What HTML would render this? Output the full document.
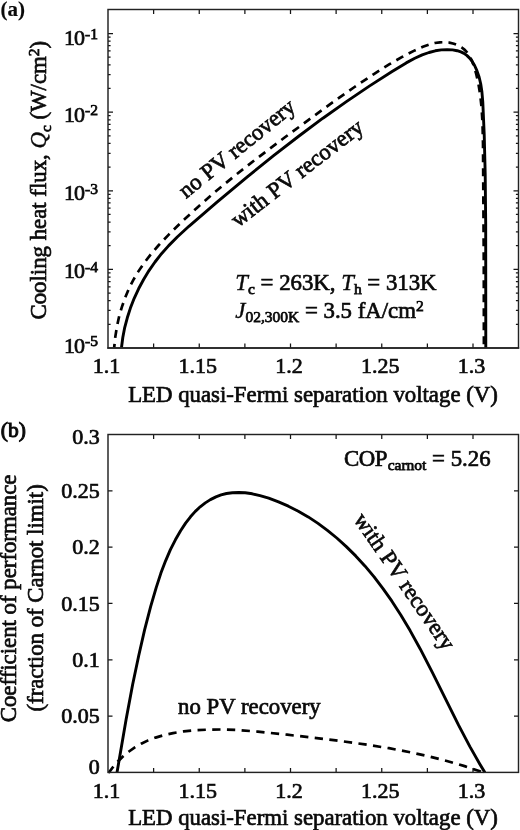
<!DOCTYPE html>
<html lang="en"><head><meta charset="utf-8"><title>LED cooling figure</title>
<style>html,body{margin:0;padding:0;background:#fff}svg{display:block}text{font-family:"Liberation Serif","Times New Roman",serif;fill:#0a0a0a;stroke:#0a0a0a;stroke-width:.7px}.i{font-style:italic;stroke-width:.4px}.k{font-size:22px}.t{font-size:22.8px}.s{font-size:15.5px;stroke-width:.75px}.ax{stroke:#222;stroke-width:1.45;fill:none}.tk{stroke:#151515;stroke-width:1.25;fill:none}.c{stroke:#000;stroke-width:2.9;fill:none;stroke-linejoin:round}.d{stroke:#000;stroke-width:2.7;fill:none;stroke-dasharray:7.9 6.1}</style></head><body>
<svg width="520" height="830" viewBox="0 0 520 830">
<rect width="520" height="830" fill="#fff"/>
<clipPath id="ca"><rect x="108.0" y="9.5" width="410.5" height="338.5"/></clipPath>
<clipPath id="cb"><rect x="108.0" y="434.5" width="410.5" height="338.9"/></clipPath>
<path class="tk" d="M153.62,348.0v-4.5M153.62,9.5v4.5M199.25,348.0v-4.5M199.25,9.5v4.5M244.88,348.0v-4.5M244.88,9.5v4.5M290.50,348.0v-4.5M290.50,9.5v4.5M336.12,348.0v-4.5M336.12,9.5v4.5M381.75,348.0v-4.5M381.75,9.5v4.5M427.38,348.0v-4.5M427.38,9.5v4.5M473.00,348.0v-4.5M473.00,9.5v4.5M108.0,324.33h2.6M518.5,324.33h-2.6M108.0,310.49h2.6M518.5,310.49h-2.6M108.0,300.67h2.6M518.5,300.67h-2.6M108.0,293.05h2.6M518.5,293.05h-2.6M108.0,286.82h2.6M518.5,286.82h-2.6M108.0,281.56h2.6M518.5,281.56h-2.6M108.0,277.00h2.6M518.5,277.00h-2.6M108.0,272.98h2.6M518.5,272.98h-2.6M108.0,269.38h5M518.5,269.38h-5M108.0,245.71h2.6M518.5,245.71h-2.6M108.0,231.87h2.6M518.5,231.87h-2.6M108.0,222.05h2.6M518.5,222.05h-2.6M108.0,214.43h2.6M518.5,214.43h-2.6M108.0,208.20h2.6M518.5,208.20h-2.6M108.0,202.94h2.6M518.5,202.94h-2.6M108.0,198.38h2.6M518.5,198.38h-2.6M108.0,194.36h2.6M518.5,194.36h-2.6M108.0,190.76h5M518.5,190.76h-5M108.0,167.09h2.6M518.5,167.09h-2.6M108.0,153.25h2.6M518.5,153.25h-2.6M108.0,143.43h2.6M518.5,143.43h-2.6M108.0,135.81h2.6M518.5,135.81h-2.6M108.0,129.58h2.6M518.5,129.58h-2.6M108.0,124.32h2.6M518.5,124.32h-2.6M108.0,119.76h2.6M518.5,119.76h-2.6M108.0,115.74h2.6M518.5,115.74h-2.6M108.0,112.14h5M518.5,112.14h-5M108.0,88.47h2.6M518.5,88.47h-2.6M108.0,74.63h2.6M518.5,74.63h-2.6M108.0,64.81h2.6M518.5,64.81h-2.6M108.0,57.19h2.6M518.5,57.19h-2.6M108.0,50.96h2.6M518.5,50.96h-2.6M108.0,45.70h2.6M518.5,45.70h-2.6M108.0,41.14h2.6M518.5,41.14h-2.6M108.0,37.12h2.6M518.5,37.12h-2.6M108.0,33.52h5M518.5,33.52h-5"/>
<g clip-path="url(#ca)"><path class="d" d="M114.2,347.5 L115.3,336.9 L117.0,326.3 L119.2,316.2 L122.0,306.6 L125.3,297.2 L129.0,288.4 L133.1,280.3 L137.9,272.1 L143.6,263.6 L150.4,254.8 L158.4,245.5 L168.3,235.1 L181.9,221.7 L197.4,207.4 L214.4,192.5 L233.7,176.6 L256.1,159.0 L284.6,137.5 L329.5,104.6 L353.8,87.5 L373.5,74.3 L389.5,64.2 L402.6,56.7 L414.8,50.4 L422.9,46.7 L429.4,44.4 L434.8,43.0 L439.9,42.3 L444.6,42.2 L449.3,42.6 L453.9,43.7 L457.9,45.2 L461.5,47.3 L464.4,49.6 L467.0,52.3 L469.4,55.8 L471.7,60.3 L473.9,66.0 L476.2,73.9 L478.5,84.3 L480.3,95.5 L481.6,108.1 L482.5,122.7 L483.0,143.5 L483.8,265.4 L483.9,350.0" stroke-dashoffset="4.3"/><path class="c" d="M121.5,347.5 L122.8,337.5 L124.7,327.6 L127.3,317.8 L130.4,308.1 L134.2,298.3 L138.6,288.8 L143.6,279.5 L149.0,270.6 L155.0,262.0 L161.5,253.7 L168.7,245.6 L177.5,236.8 L188.9,226.3 L216.7,202.4 L247.3,176.9 L273.9,155.4 L299.0,136.0 L322.9,118.2 L346.4,101.6 L369.3,86.1 L392.1,71.5 L406.2,62.9 L414.8,58.3 L422.2,54.9 L429.0,52.5 L435.3,50.8 L441.3,49.9 L447.1,49.6 L452.5,49.9 L457.2,50.7 L460.9,51.9 L464.0,53.4 L466.8,55.4 L469.6,58.1 L472.2,61.4 L474.6,65.5 L476.9,70.6 L479.1,77.0 L480.7,83.8 L481.9,91.8 L482.8,102.2 L484.2,134.1 L485.2,174.2 L485.7,224.0 L485.8,350.0"/></g>
<rect class="ax" x="108.0" y="9.5" width="410.5" height="338.5"/><path class="ax" style="stroke-width:1.7" d="M107.3,348.0H519.2"/>
<text class="k" x="64" y="45.2"><tspan letter-spacing="-1">10</tspan><tspan class="s" dx="1" dy="-6.3">-1</tspan></text>
<text class="k" x="64" y="121.7"><tspan letter-spacing="-1">10</tspan><tspan class="s" dx="1" dy="-6.3">-2</tspan></text>
<text class="k" x="64" y="199.9"><tspan letter-spacing="-1">10</tspan><tspan class="s" dx="1" dy="-6.3">-3</tspan></text>
<text class="k" x="64" y="278"><tspan letter-spacing="-1">10</tspan><tspan class="s" dx="1" dy="-6.3">-4</tspan></text>
<text class="k" x="64" y="352.5"><tspan letter-spacing="-1">10</tspan><tspan class="s" dx="1" dy="-6.3">-5</tspan></text>
<text class="k" text-anchor="middle" x="106.5" y="373.2">1.1</text>
<text class="k" text-anchor="middle" x="197.7" y="373.2">1.15</text>
<text class="k" text-anchor="middle" x="289.0" y="373.2">1.2</text>
<text class="k" text-anchor="middle" x="380.2" y="373.2">1.25</text>
<text class="k" text-anchor="middle" x="471.5" y="373.2">1.3</text>
<text class="t" text-anchor="middle" x="313" y="401.5">LED quasi-Fermi separation voltage (V)</text>
<text class="k" text-anchor="middle" x="106.5" y="797.6">1.1</text>
<text class="k" text-anchor="middle" x="197.7" y="797.6">1.15</text>
<text class="k" text-anchor="middle" x="289.0" y="797.6">1.2</text>
<text class="k" text-anchor="middle" x="380.2" y="797.6">1.25</text>
<text class="k" text-anchor="middle" x="471.5" y="797.6">1.3</text>
<text class="t" text-anchor="middle" x="313" y="824.8">LED quasi-Fermi separation voltage (V)</text>
<text class="t" x="0.6" y="15.8" style="font-size:21px;font-weight:bold;stroke-width:.15px">(a)</text>
<text class="t" x="0.8" y="436.8" style="font-size:21.5px;stroke-width:1px">(b)</text>
<text class="t" text-anchor="middle" transform="translate(45.9,180.2) rotate(-90)">Cooling heat flux, <tspan class="i">Q</tspan><tspan class="s" dy="5">c</tspan><tspan dy="-5"> (W/cm</tspan><tspan class="s" dy="-7">2</tspan><tspan dy="7">)</tspan></text>
<text class="t" text-anchor="middle" transform="translate(16.4,598.4) rotate(-90)">Coefficient of performance</text>
<text class="t" text-anchor="middle" transform="translate(42.5,597.9) rotate(-90)">(fraction of Carnot limit)</text>
<text class="t" transform="translate(186,199) rotate(-39)">no PV recovery</text>
<text class="t" transform="translate(238,228) rotate(-37.7)">with PV recovery</text>
<text class="t" x="235.3" y="290.4"><tspan class="i">T</tspan><tspan class="s" dy="4">c</tspan><tspan dy="-4"> = 263K, </tspan><tspan class="i">T</tspan><tspan class="s" dy="4">h</tspan><tspan dy="-4"> = 313K</tspan></text>
<text class="t" x="235.3" y="318"><tspan class="i">J</tspan><tspan class="s" dy="4">02,300K</tspan><tspan dy="-4"> = 3.5 fA/cm</tspan><tspan class="s" dy="-7">2</tspan></text>
<path class="tk" d="M153.62,772.4v-4.5M153.62,434.5v4.5M199.25,772.4v-4.5M199.25,434.5v4.5M244.88,772.4v-4.5M244.88,434.5v4.5M290.50,772.4v-4.5M290.50,434.5v4.5M336.12,772.4v-4.5M336.12,434.5v4.5M381.75,772.4v-4.5M381.75,434.5v4.5M427.38,772.4v-4.5M427.38,434.5v4.5M473.00,772.4v-4.5M473.00,434.5v4.5M108.0,716.08h4.5M518.5,716.08h-4.5M108.0,659.77h4.5M518.5,659.77h-4.5M108.0,603.45h4.5M518.5,603.45h-4.5M108.0,547.13h4.5M518.5,547.13h-4.5M108.0,490.82h4.5M518.5,490.82h-4.5"/>
<g clip-path="url(#cb)"><path class="d" style="stroke-dasharray:8.3 6.4" d="M108.4,773.3 L112.8,767.3 L117.6,761.7 L122.9,756.5 L128.7,751.7 L134.8,747.4 L141.2,743.7 L148.1,740.4 L155.6,737.6 L163.9,735.1 L173.1,733.1 L183.7,731.4 L195.8,730.2 L208.8,729.6 L223.0,729.5 L238.9,730.1 L257.8,731.6 L287.2,734.7 L335.8,740.4 L364.9,744.4 L389.0,748.2 L410.3,752.3 L429.7,756.6 L447.7,761.2 L464.6,766.1 L480.6,771.5 L484.9,773.0" stroke-dashoffset="14.6"/><path class="c" d="M117.0,772.6 L126.1,719.5 L132.6,684.7 L138.7,655.7 L144.6,629.9 L150.7,606.4 L156.2,587.6 L160.9,573.1 L165.6,560.8 L170.4,549.7 L175.4,539.8 L180.6,530.7 L185.6,523.1 L190.5,516.8 L195.3,511.4 L200.2,506.8 L205.3,502.9 L210.4,499.6 L215.9,496.9 L221.1,494.9 L226.5,493.5 L232.4,492.7 L238.6,492.5 L245.2,492.8 L252.3,493.8 L260.0,495.6 L268.7,498.2 L278.5,501.9 L288.4,506.2 L298.3,511.2 L308.2,516.9 L318.0,523.4 L327.4,530.3 L336.8,538.0 L346.3,546.6 L355.7,555.9 L364.9,565.9 L374.1,576.9 L383.0,588.6 L391.9,601.2 L400.8,615.0 L410.1,630.6 L420.1,648.7 L432.2,672.1 L458.7,725.4 L469.9,746.6 L479.6,763.7 L484.9,772.6"/></g>
<rect class="ax" x="108.0" y="434.5" width="410.5" height="337.9"/>
<text class="k" text-anchor="end" x="99.7" y="773.8">0</text>
<text class="k" text-anchor="end" x="99.7" y="723.2">0.05</text>
<text class="k" text-anchor="end" x="99.7" y="666.9">0.1</text>
<text class="k" text-anchor="end" x="99.7" y="610.5">0.15</text>
<text class="k" text-anchor="end" x="99.7" y="554.2">0.2</text>
<text class="k" text-anchor="end" x="99.7" y="497.9">0.25</text>
<text class="k" text-anchor="end" x="99.7" y="444.2">0.3</text>
<text class="t" x="344" y="466.1"><tspan letter-spacing="-.5">COP</tspan><tspan class="s" dx=".8" dy="4.1">carnot</tspan><tspan dy="-4.1"> = 5.26</tspan></text>
<text class="t" x="178" y="713.5">no PV recovery</text>
<text class="t" transform="translate(353,519.5) rotate(55.4)">with PV recovery</text>
</svg></body></html>
